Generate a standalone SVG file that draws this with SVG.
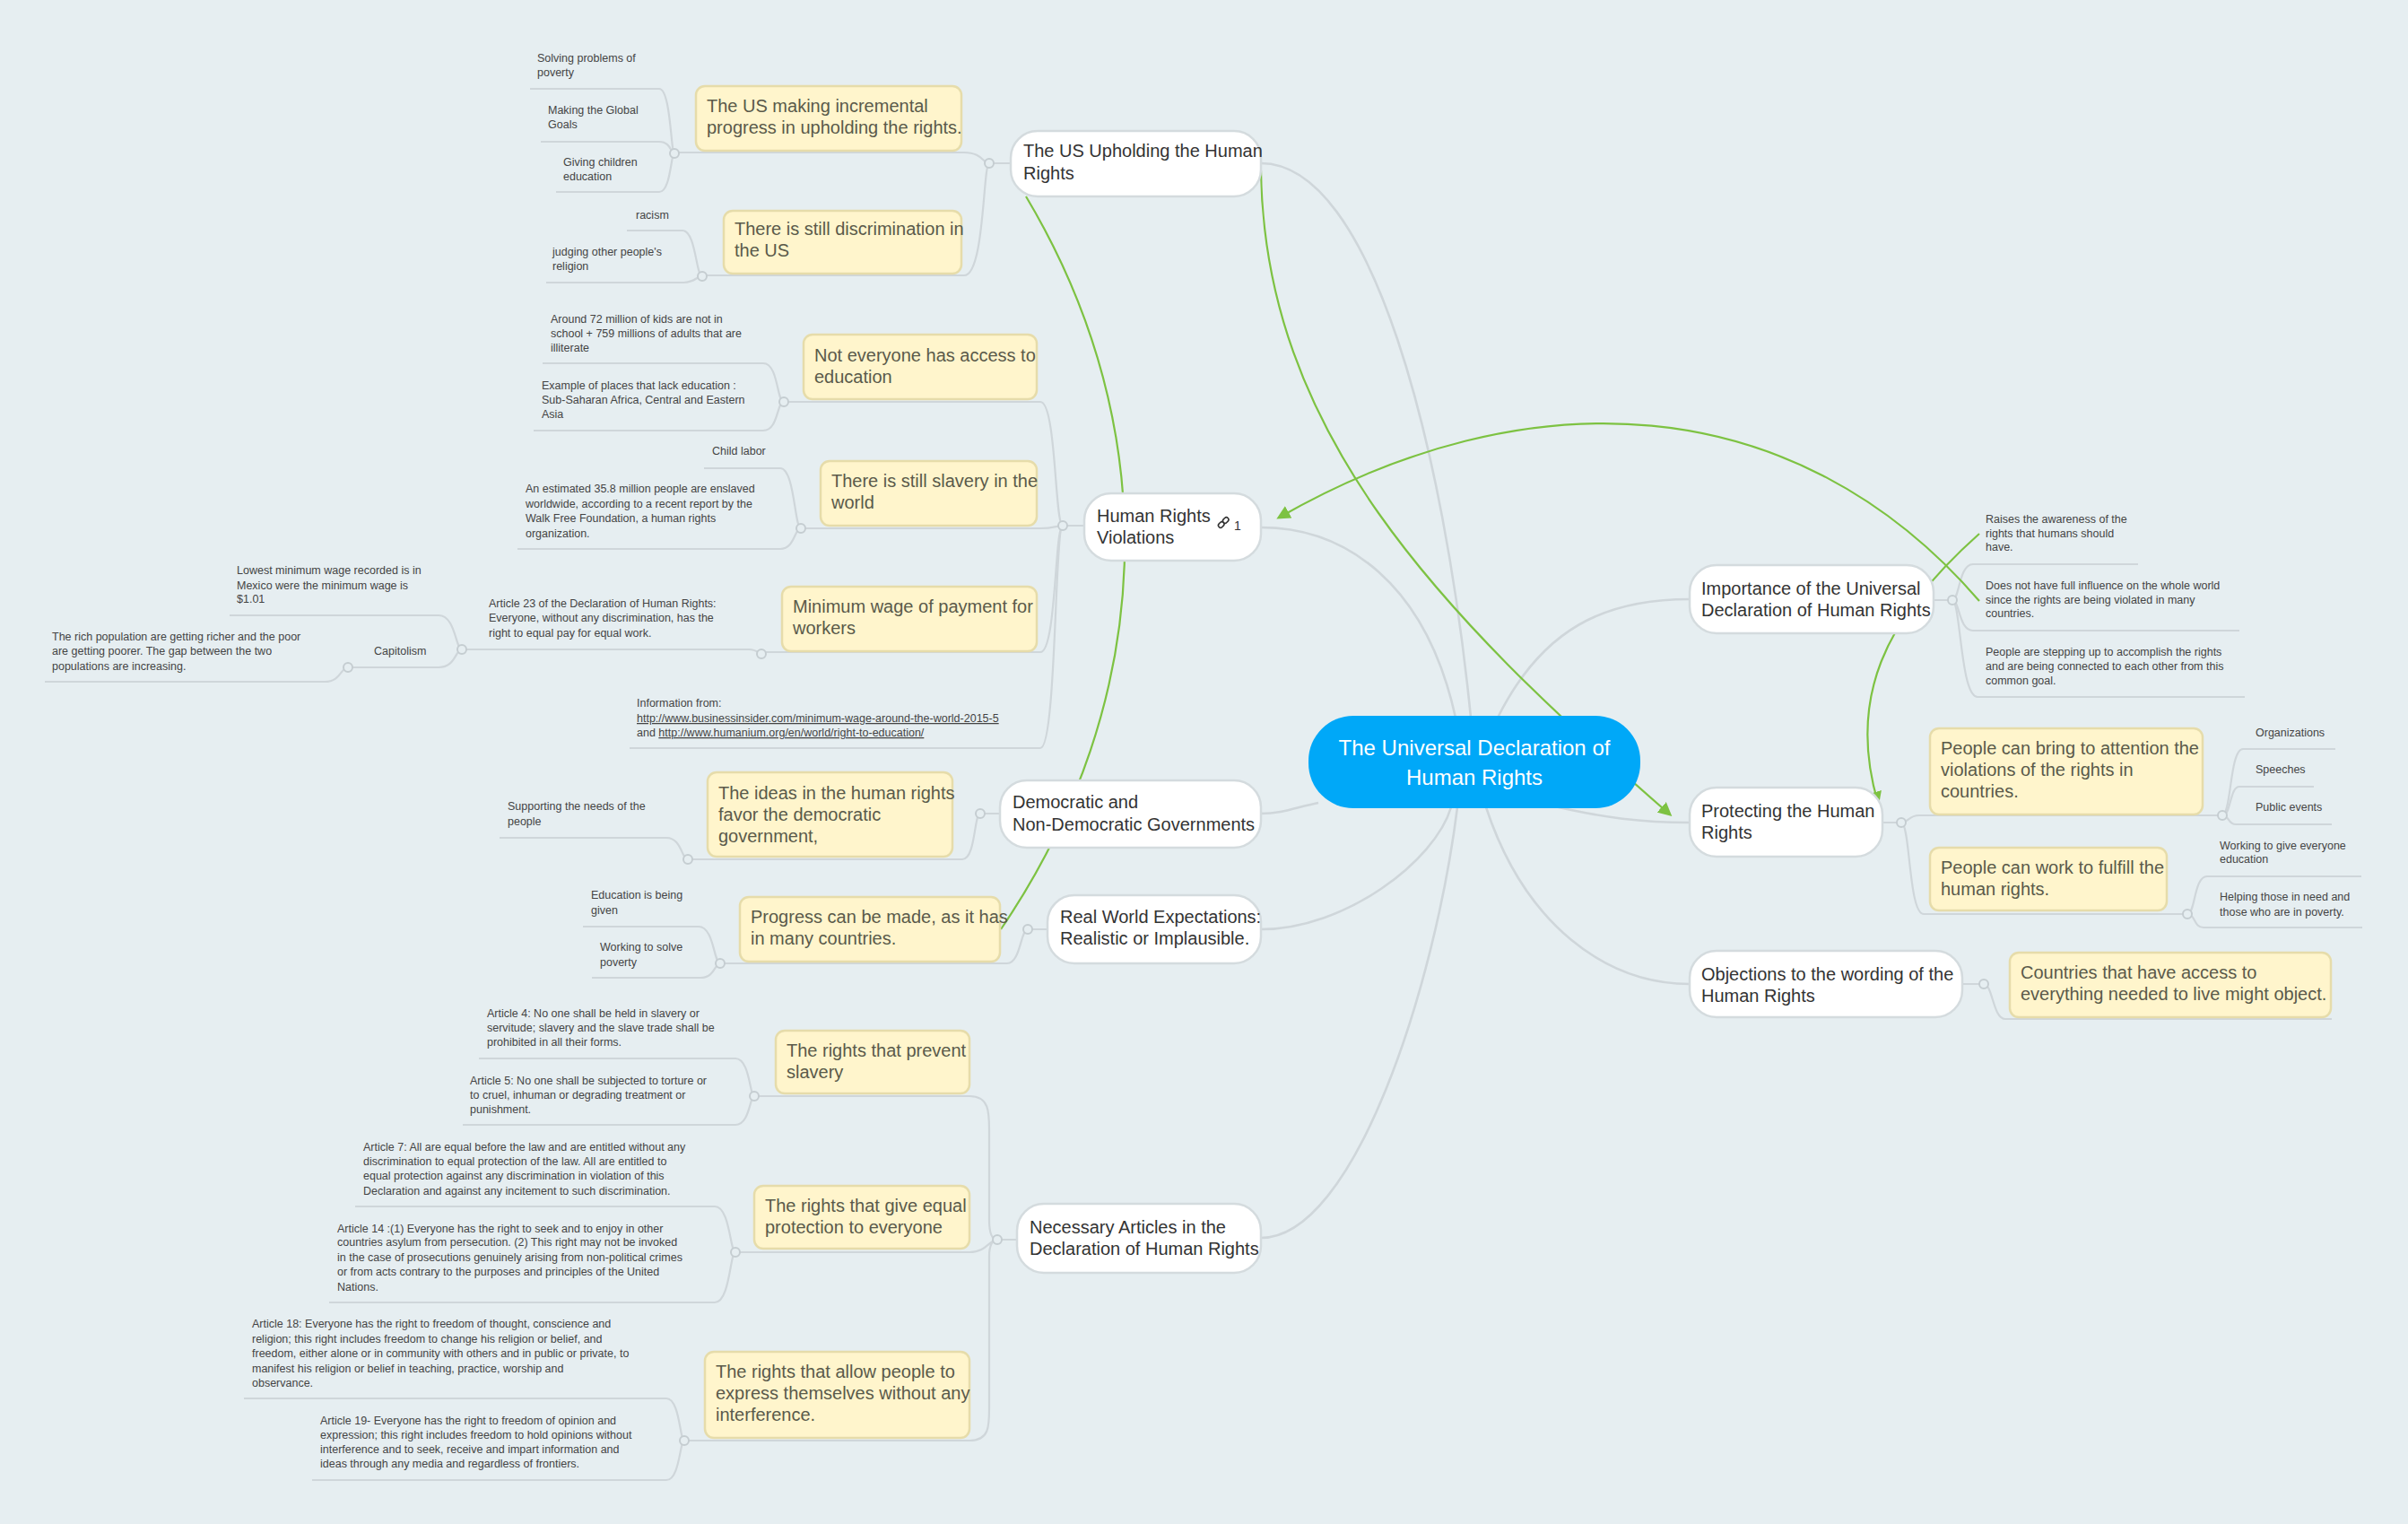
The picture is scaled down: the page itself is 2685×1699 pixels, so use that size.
<svg xmlns="http://www.w3.org/2000/svg" width="2685" height="1699" viewBox="0 0 2685 1699">
<defs>
<style>
text{font-family:"Liberation Sans",Arial,sans-serif}
.c{fill:none;stroke:#cfd6da;stroke-width:2.2}
.m{fill:none;stroke:#cfd6da;stroke-width:2.6}
.g{fill:none;stroke:#7dc242;stroke-width:2.2}
.j{fill:#e6eef1;stroke:#c5cdd1;stroke-width:2}
.w{fill:#fff;stroke:#d4dbde;stroke-width:2.5}
.y{fill:#fff5cc;stroke:#e6dcaa;stroke-width:2.5}
.wt{font-size:20px;fill:#333}
.yt{font-size:20px;fill:#5a5a4a}
.s{font-size:12.5px;fill:#444}
</style>
<marker id="ar" viewBox="0 0 10 10" refX="8" refY="5" markerWidth="7" markerHeight="7" orient="auto-start-reverse"><path d="M0,0 L10,5 L0,10 z" fill="#7dc242"/></marker>
</defs>
<rect width="2685" height="1699" fill="#e6eef1"/>
<g id="connectors">
<path class="m" d="M1406 182 C1530 182,1610 500,1640 800"/>
<path class="m" d="M1406 588 C1500 588,1590 650,1623 800"/>
<path class="m" d="M1406 907 C1430 907,1445 900,1470 895"/>
<path class="m" d="M1406 1036 C1500 1036,1600 960,1618 900"/>
<path class="m" d="M1406 1380 C1510 1380,1600 1100,1625 900"/>
<path class="m" d="M1670 800 C1720 700,1790 668,1884 668"/>
<path class="m" d="M1729 898 C1790 912,1830 917,1884 917"/>
<path class="m" d="M1657 900 C1700 1030,1790 1097,1884 1097"/>
<path class="c" d="M1103 182 H1127 M1185 586 H1209 M1093 907 H1115 M1146 1036 H1168 M1112 1382 H1134 M2156 669 H2177 M2099 917 H2120 M2188 1097 H2212"/>
<path class="c" d="M752 170 H1075 C1095 170,1096 182,1103 182"/>
<path class="c" d="M783 307 H1075 C1098 307,1096 182,1103 182"/>
<path class="c" d="M591 99 H735 C748 99,748 171,752 171"/>
<path class="c" d="M603 158 H735 C748 158,748 171,752 171"/>
<path class="c" d="M620 214 H735 C748 214,748 171,752 171"/>
<path class="c" d="M699 257 H761 C776 257,776 308,783 308"/>
<path class="c" d="M609 315 H761 C776 315,776 308,783 308"/>
<path class="c" d="M874 448 H1160 C1178 448,1176 586,1185 586"/>
<path class="c" d="M893 589 H1160 C1175 589,1178 586,1185 586"/>
<path class="c" d="M849 727 H1160 C1178 727,1176 586,1185 586"/>
<path class="c" d="M702 834 H1160 C1178 834,1176 586,1185 586"/>
<path class="c" d="M605 405 H851 C868 405,866 448,874 448"/>
<path class="c" d="M595 480 H851 C868 480,866 448,874 448"/>
<path class="c" d="M785 522 H870 C886 522,886 589,893 589"/>
<path class="c" d="M577 612 H870 C886 612,886 589,893 589"/>
<path class="c" d="M515 724 H835 C845 724,845 729,849 729"/>
<path class="c" d="M256 686 H489 C508 686,508 724,515 724"/>
<path class="c" d="M389 744 H489 C508 744,508 724,515 724"/>
<path class="c" d="M50 760 H362 C380 760,380 744,388 744"/>
<path class="c" d="M767 958 H1073 C1088 958,1086 907,1093 907"/>
<path class="c" d="M557 934 H743 C760 934,760 958,767 958"/>
<path class="c" d="M803 1074 H1123 C1138 1074,1138 1036,1146 1036"/>
<path class="c" d="M650 1033 H779 C796 1033,796 1074,803 1074"/>
<path class="c" d="M660 1090 H781 C797 1090,797 1074,803 1074"/>
<path class="c" d="M841 1222 H1081 C1103 1222,1103 1240,1103 1260 V1360 C1103 1375,1106 1382,1112 1382"/>
<path class="c" d="M820 1396 H1081 C1100 1396,1103 1382,1112 1382"/>
<path class="c" d="M763 1606 H1081 C1103 1606,1103 1590,1103 1570 V1400 C1103 1390,1106 1382,1112 1382"/>
<path class="c" d="M534 1180 H820 C836 1180,836 1222,841 1222"/>
<path class="c" d="M516 1254 H820 C836 1254,836 1222,841 1222"/>
<path class="c" d="M396 1345 H797 C814 1345,814 1396,820 1396"/>
<path class="c" d="M367 1452 H797 C814 1452,814 1396,820 1396"/>
<path class="c" d="M272 1559 H743 C758 1559,758 1606,763 1606"/>
<path class="c" d="M348 1650 H743 C758 1650,758 1606,763 1606"/>
<path class="c" d="M2177 669 C2185 669,2184 629,2200 629 H2384"/>
<path class="c" d="M2177 669 C2185 669,2184 703,2200 703 H2497"/>
<path class="c" d="M2177 669 C2186 669,2186 777,2205 777 H2503"/>
<path class="c" d="M2120 917 C2128 917,2128 909,2140 909 H2478"/>
<path class="c" d="M2120 917 C2130 917,2128 1019,2145 1019 H2439"/>
<path class="c" d="M2478 909 C2488 909,2486 835,2501 835 H2604"/>
<path class="c" d="M2478 909 C2488 909,2486 877,2497 877 H2580"/>
<path class="c" d="M2478 909 C2486 909,2484 919,2493 919 H2600"/>
<path class="c" d="M2439 1019 C2448 1019,2446 977,2461 977 H2633"/>
<path class="c" d="M2439 1019 C2448 1019,2446 1034,2457 1034 H2634"/>
<path class="c" d="M2212 1097 C2222 1097,2222 1136,2236 1136 H2600"/>
<path class="g" d="M1144 219 C1300 480,1290 780,1116 1036"/>
<path class="g" d="M1406 190 C1410 480,1600 680,1862 908" marker-end="url(#ar)"/>
<path class="g" d="M2207 670 C2000 430,1700 420,1426 577" marker-end="url(#ar)"/>
<path class="g" d="M2207 595 C2100 690,2060 780,2094 895" marker-end="url(#ar)"/>
<g>
<circle class="j" cx="1103" cy="182" r="5"/><circle class="j" cx="752" cy="171" r="5"/><circle class="j" cx="783" cy="308" r="5"/>
<circle class="j" cx="1185" cy="586" r="5"/><circle class="j" cx="874" cy="448" r="5"/><circle class="j" cx="893" cy="589" r="5"/>
<circle class="j" cx="849" cy="729" r="5"/><circle class="j" cx="515" cy="724" r="5"/><circle class="j" cx="388" cy="744" r="5"/>
<circle class="j" cx="1093" cy="907" r="5"/><circle class="j" cx="767" cy="958" r="5"/><circle class="j" cx="1146" cy="1036" r="5"/>
<circle class="j" cx="803" cy="1074" r="5"/><circle class="j" cx="1112" cy="1382" r="5"/><circle class="j" cx="841" cy="1222" r="5"/>
<circle class="j" cx="820" cy="1396" r="5"/><circle class="j" cx="763" cy="1606" r="5"/><circle class="j" cx="2177" cy="669" r="5"/>
<circle class="j" cx="2120" cy="917" r="5"/><circle class="j" cx="2478" cy="909" r="5"/><circle class="j" cx="2439" cy="1019" r="5"/>
<circle class="j" cx="2212" cy="1097" r="5"/>
</g>
</g>
<g id="central"><rect x="1459" y="798" width="370" height="103" rx="50" fill="#00a8f8"/>
<text x="1644" y="842" text-anchor="middle" font-size="24" fill="#fff">The Universal Declaration of</text>
<text x="1644" y="875" text-anchor="middle" font-size="24" fill="#fff">Human Rights</text></g>
<g id="n-us"><rect class="w" x="1127" y="146" width="279" height="73" rx="30"/><text class="wt" x="1141" y="175">The US Upholding the Human</text><text class="wt" x="1141" y="200">Rights</text></g>
<g id="n-hrv"><rect class="w" x="1209" y="550" width="197" height="75" rx="30"/><text class="wt" x="1223" y="582">Human Rights</text><text class="wt" x="1223" y="606">Violations</text>
<g fill="none" stroke="#333" stroke-width="1.6"><rect x="1358" y="583" width="7" height="5" rx="2.5" transform="rotate(-45 1361 585)"/><rect x="1363" y="578" width="7" height="5" rx="2.5" transform="rotate(-45 1366 580)"/></g><text x="1376" y="591" font-size="14" fill="#333">1</text></g>
<g id="n-dem"><rect class="w" x="1115" y="870" width="291" height="75" rx="30"/><text class="wt" x="1129" y="901">Democratic and</text><text class="wt" x="1129" y="926">Non-Democratic Governments</text></g>
<g id="n-real"><rect class="w" x="1168" y="998" width="238" height="76" rx="30"/><text class="wt" x="1182" y="1029">Real World Expectations:</text><text class="wt" x="1182" y="1053">Realistic or Implausible.</text></g>
<g id="n-nec"><rect class="w" x="1134" y="1342" width="272" height="77" rx="30"/><text class="wt" x="1148" y="1375">Necessary Articles in the</text><text class="wt" x="1148" y="1399">Declaration of Human Rights</text></g>
<g id="n-imp"><rect class="w" x="1884" y="630" width="272" height="76" rx="30"/><text class="wt" x="1897" y="663">Importance of the Universal</text><text class="wt" x="1897" y="687">Declaration of Human Rights</text></g>
<g id="n-prot"><rect class="w" x="1884" y="878" width="215" height="77" rx="30"/><text class="wt" x="1897" y="911">Protecting the Human</text><text class="wt" x="1897" y="935">Rights</text></g>
<g id="n-obj"><rect class="w" x="1884" y="1060" width="304" height="74" rx="30"/><text class="wt" x="1897" y="1093">Objections to the wording of the</text><text class="wt" x="1897" y="1117">Human Rights</text></g>
<g id="y-usprog"><rect class="y" x="776" y="96" width="296" height="72" rx="10"/><text class="yt" x="788" y="125">The US making incremental</text><text class="yt" x="788" y="149">progress in upholding the rights.</text></g>
<g id="y-disc"><rect class="y" x="807" y="235" width="265" height="70" rx="10"/><text class="yt" x="819" y="262">There is still discrimination in</text><text class="yt" x="819" y="286">the US</text></g>
<g id="y-edu"><rect class="y" x="896" y="373" width="260" height="72" rx="10"/><text class="yt" x="908" y="403">Not everyone has access to</text><text class="yt" x="908" y="427">education</text></g>
<g id="y-slav"><rect class="y" x="915" y="514" width="241" height="72" rx="10"/><text class="yt" x="927" y="543">There is still slavery in the</text><text class="yt" x="927" y="567">world</text></g>
<g id="y-wage"><rect class="y" x="872" y="654" width="284" height="72" rx="10"/><text class="yt" x="884" y="683">Minimum wage of payment for</text><text class="yt" x="884" y="707">workers</text></g>
<g id="y-ideas"><rect class="y" x="789" y="861" width="273" height="94" rx="10"/><text class="yt" x="801" y="891">The ideas in the human rights</text><text class="yt" x="801" y="915">favor the democratic</text><text class="yt" x="801" y="939">government,</text></g>
<g id="y-prog"><rect class="y" x="825" y="1000" width="290" height="72" rx="10"/><text class="yt" x="837" y="1029">Progress can be made, as it has</text><text class="yt" x="837" y="1053">in many countries.</text></g>
<g id="y-prev"><rect class="y" x="865" y="1149" width="216" height="70" rx="10"/><text class="yt" x="877" y="1178">The rights that prevent</text><text class="yt" x="877" y="1202">slavery</text></g>
<g id="y-equal"><rect class="y" x="841" y="1322" width="240" height="70" rx="10"/><text class="yt" x="853" y="1351">The rights that give equal</text><text class="yt" x="853" y="1375">protection to everyone</text></g>
<g id="y-expr"><rect class="y" x="786" y="1507" width="295" height="96" rx="10"/><text class="yt" x="798" y="1536">The rights that allow people to</text><text class="yt" x="798" y="1560">express themselves without any</text><text class="yt" x="798" y="1584">interference.</text></g>
<g id="y-bring"><rect class="y" x="2152" y="812" width="304" height="96" rx="10"/><text class="yt" x="2164" y="841">People can bring to attention the</text><text class="yt" x="2164" y="865">violations of the rights in</text><text class="yt" x="2164" y="889">countries.</text></g>
<g id="y-work"><rect class="y" x="2152" y="945" width="264" height="70" rx="10"/><text class="yt" x="2164" y="974">People can work to fulfill the</text><text class="yt" x="2164" y="998">human rights.</text></g>
<g id="y-countries"><rect class="y" x="2241" y="1062" width="358" height="72" rx="10"/><text class="yt" x="2253" y="1091">Countries that have access to</text><text class="yt" x="2253" y="1115">everything needed to live might object.</text></g>
<g id="leaves" class="s">
<text class="s" x="599" y="69">Solving problems of</text><text class="s" x="599" y="85">poverty</text>
<text class="s" x="611" y="127">Making the Global</text><text class="s" x="611" y="143">Goals</text>
<text class="s" x="628" y="185">Giving children</text><text class="s" x="628" y="201">education</text>
<text class="s" x="709" y="244">racism</text>
<text class="s" x="616" y="285">judging other people's</text><text class="s" x="616" y="301">religion</text>
<text class="s" x="614" y="360">Around 72 million of kids are not in</text><text class="s" x="614" y="376">school + 759 millions of adults that are</text><text class="s" x="614" y="392">illiterate</text>
<text class="s" x="604" y="434">Example of places that lack education :</text><text class="s" x="604" y="450">Sub-Saharan Africa, Central and Eastern</text><text class="s" x="604" y="466">Asia</text>
<text class="s" x="794" y="507">Child labor</text>
<text class="s" x="586" y="549">An estimated 35.8 million people are enslaved</text><text class="s" x="586" y="566">worldwide, according to a recent report by the</text><text class="s" x="586" y="582">Walk Free Foundation, a human rights</text><text class="s" x="586" y="599">organization.</text>
<text class="s" x="545" y="677">Article 23 of the Declaration of Human Rights:</text><text class="s" x="545" y="693">Everyone, without any discrimination, has the</text><text class="s" x="545" y="710">right to equal pay for equal work.</text>
<text class="s" x="264" y="640">Lowest minimum wage recorded is in</text><text class="s" x="264" y="657">Mexico were the minimum wage is</text><text class="s" x="264" y="672">$1.01</text>
<text class="s" x="417" y="730">Capitolism</text>
<text class="s" x="58" y="714">The rich population are getting richer and the poor</text><text class="s" x="58" y="730">are getting poorer. The gap between the two</text><text class="s" x="58" y="747">populations are increasing.</text>
<text class="s" x="710" y="788">Information from:</text><text class="s" x="710" y="805" text-decoration="underline">http://www.businessinsider.com/minimum-wage-around-the-world-2015-5</text><text class="s" x="710" y="821">and <tspan text-decoration="underline">http://www.humanium.org/en/world/right-to-education/</tspan></text>
<text class="s" x="566" y="903">Supporting the needs of the</text><text class="s" x="566" y="920">people</text>
<text class="s" x="659" y="1002">Education is being</text><text class="s" x="659" y="1019">given</text>
<text class="s" x="669" y="1060">Working to solve</text><text class="s" x="669" y="1077">poverty</text>
<text class="s" x="543" y="1134">Article 4: No one shall be held in slavery or</text><text class="s" x="543" y="1150">servitude; slavery and the slave trade shall be</text><text class="s" x="543" y="1166">prohibited in all their forms.</text>
<text class="s" x="524" y="1209">Article 5: No one shall be subjected to torture or</text><text class="s" x="524" y="1225">to cruel, inhuman or degrading treatment or</text><text class="s" x="524" y="1241">punishment.</text>
<text class="s" x="405" y="1283">Article 7: All are equal before the law and are entitled without any</text><text class="s" x="405" y="1299">discrimination to equal protection of the law. All are entitled to</text><text class="s" x="405" y="1315">equal protection against any discrimination in violation of this</text><text class="s" x="405" y="1332">Declaration and against any incitement to such discrimination.</text>
<text class="s" x="376" y="1374">Article 14 :(1) Everyone has the right to seek and to enjoy in other</text><text class="s" x="376" y="1389">countries asylum from persecution. (2) This right may not be invoked</text><text class="s" x="376" y="1406">in the case of prosecutions genuinely arising from non-political crimes</text><text class="s" x="376" y="1422">or from acts contrary to the purposes and principles of the United</text><text class="s" x="376" y="1439">Nations.</text>
<text class="s" x="281" y="1480">Article 18: Everyone has the right to freedom of thought, conscience and</text><text class="s" x="281" y="1497">religion; this right includes freedom to change his religion or belief, and</text><text class="s" x="281" y="1513">freedom, either alone or in community with others and in public or private, to</text><text class="s" x="281" y="1530">manifest his religion or belief in teaching, practice, worship and</text><text class="s" x="281" y="1546">observance.</text>
<text class="s" x="357" y="1588">Article 19- Everyone has the right to freedom of opinion and</text><text class="s" x="357" y="1604">expression; this right includes freedom to hold opinions without</text><text class="s" x="357" y="1620">interference and to seek, receive and impart information and</text><text class="s" x="357" y="1636">ideas through any media and regardless of frontiers.</text>
<text class="s" x="2214" y="583">Raises the awareness of the</text><text class="s" x="2214" y="599">rights that humans should</text><text class="s" x="2214" y="614">have.</text>
<text class="s" x="2214" y="657">Does not have full influence on the whole world</text><text class="s" x="2214" y="673">since the rights are being violated in many</text><text class="s" x="2214" y="688">countries.</text>
<text class="s" x="2214" y="731">People are stepping up to accomplish the rights</text><text class="s" x="2214" y="747">and are being connected to each other from this</text><text class="s" x="2214" y="763">common goal.</text>
<text class="s" x="2515" y="821">Organizations</text>
<text class="s" x="2515" y="862">Speeches</text>
<text class="s" x="2515" y="904">Public events</text>
<text class="s" x="2475" y="947">Working to give everyone</text><text class="s" x="2475" y="962">education</text>
<text class="s" x="2475" y="1004">Helping those in need and</text><text class="s" x="2475" y="1021">those who are in poverty.</text>
</g>
</svg>
